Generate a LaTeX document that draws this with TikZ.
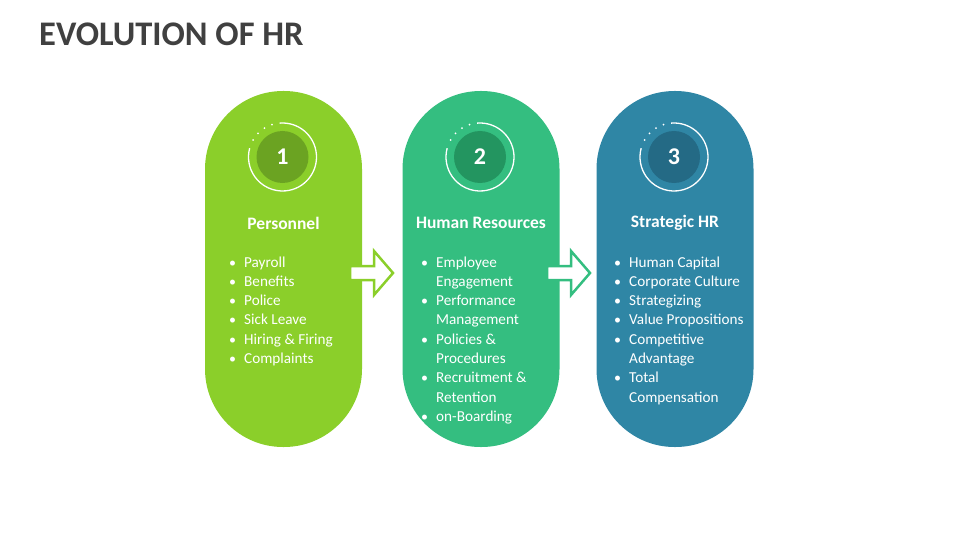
\documentclass[tikz,border=0pt]{standalone}
\usepackage{fontspec}
\setmainfont{Carlito}
\definecolor{cA}{HTML}{8BCF2A}\definecolor{dA}{HTML}{6BA322}
\definecolor{cB}{HTML}{34BE80}\definecolor{dB}{HTML}{239560}
\definecolor{cC}{HTML}{2F86A5}\definecolor{dC}{HTML}{246A85}
\definecolor{ttl}{HTML}{404040}
\tikzset{
 pill/.style={rounded corners=78pt,minimum width=157pt,minimum height=356pt,inner sep=0pt},
 num/.style={circle,minimum size=52pt,inner sep=0pt,text=white,font=\bfseries\fontsize{24}{24}\selectfont},
 head/.style={text=white,font=\bfseries\fontsize{17.5}{18}\selectfont},
 itm/.style={text=white,anchor=base west,inner sep=0pt,font=\fontsize{15.2}{17}\selectfont},
 blt/.style={text=white,anchor=base west,inner sep=0pt,font=\fontsize{14}{17}\selectfont},
 arr/.style={draw=#1,fill=white,line width=2.5pt,line join=miter}
}
\newcommand\blockarrow[2]{\draw[arr=#2] (#1,266) -- ++(24,0) -- ++(0,-15) -- ++(19,22) -- ++(-19,22) -- ++(0,-15) -- ++(-24,0) -- cycle;}
\begin{document}
\begin{tikzpicture}[x=1pt,y=-1pt]
\useasboundingbox (0,0) rectangle (960,540);
\node[anchor=base west,text=ttl,font=\bfseries\fontsize{34.5}{34}\selectfont,inner sep=0pt] (title) at (39,46) {EVOLUTION OF HR};
\foreach \n/\x/\c/\d/\h in {1/283.5/cA/dA/Personnel,2/481/cB/dB/Human Resources,3/675/cC/dC/Strategic HR}{
 \node[pill,fill=\c] (p\n) at (\x,269) {};
 \node[num,fill=\d] (n\n) at (\x-1,157) {\n};
 \draw[white,line width=1.3pt] (\x-1,157) ++(-95:34) arc[start angle=-95,end angle=195,radius=34];
 \foreach \a in {-108,-122,-136,-150} \fill[white] (\x-1,157) ++(\a:34) circle (1pt);
 \node[head] (h\n) at (\x,223) {\h};
}
\blockarrow{350}{cA}
\blockarrow{547}{cB}
% list 1
\foreach \i/\t in {1/Payroll,2/Benefits,3/Police,4/Sick Leave,5/Hiring \& Firing,6/Complaints}{
 \node[blt] (ba\i) at (229,262+19.3*\i-19.3+5) {•};
 \node[itm] (ta\i) at (244,262+19.3*\i-19.3+5) {\t};
}
% list 2
\foreach \i/\t/\b in {1/Employee/1,2/Engagement/0,3/Performance/1,4/Management/0,5/Policies \&/1,6/Procedures/0,7/Recruitment \&/1,8/Retention/0,9/on-Boarding/1}{
 \ifnum\b=1 \node[blt] (bb\i) at (421,262+19.3*\i-19.3+5) {•};\fi
 \node[itm] (tb\i) at (436,262+19.3*\i-19.3+5) {\t};
}
% list 3
\foreach \i/\t/\b in {1/Human Capital/1,2/Corporate Culture/1,3/Strategizing/1,4/Value Propositions/1,5/Competitive/1,6/Advantage/0,7/Total/1,8/Compensation/0}{
 \ifnum\b=1 \node[blt] (bc\i) at (614,262+19.3*\i-19.3+5) {•};\fi
 \node[itm] (tc\i) at (629,262+19.3*\i-19.3+5) {\t};
}
\end{tikzpicture}
\end{document}
